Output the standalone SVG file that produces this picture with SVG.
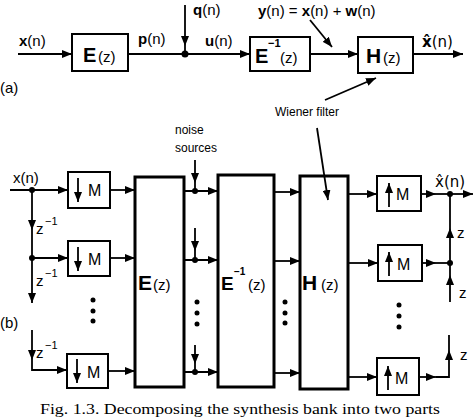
<svg xmlns="http://www.w3.org/2000/svg" width="474" height="419" viewBox="0 0 474 419">
<style>
text{font-family:"Liberation Sans",Arial,sans-serif;fill:#000}
.b{font-weight:bold}
.lbl{font-size:15px}
.sm{font-size:12px}
.box{fill:none;stroke:#000;stroke-width:2}
.tbox{fill:none;stroke:#000;stroke-width:3}
.ln{fill:none;stroke:#000;stroke-width:1.8}
.dot{fill:#000}
.cap{font-family:"Liberation Serif","Times New Roman",serif;font-size:15px}
</style>
<defs>
<marker id="ah" markerUnits="userSpaceOnUse" markerWidth="10" markerHeight="8" refX="10" refY="4" orient="auto">
<path d="M0,0 L10,4 L0,8 z" fill="#000"/>
</marker>
</defs>

<!-- (a) nodes -->
<g id="a-E">
<rect class="box" x="72" y="34" width="56" height="37"/>
<text x="83" y="62" class="b" font-size="20">E</text><text x="98" y="62" class="lbl">(z)</text>
</g>
<g id="a-Einv">
<rect class="box" x="250" y="37" width="60" height="34"/>
<text x="255" y="63" class="b" font-size="20">E</text><text x="268" y="47" class="b" font-size="11">−1</text><text x="280" y="63" class="lbl">(z)</text>
</g>
<g id="a-H">
<rect class="box" x="358" y="37" width="55" height="36"/>
<text x="366" y="63" class="b" font-size="21">H</text><text x="383" y="63" class="lbl">(z)</text>
</g>

<g id="a-labels">
<text x="19" y="46" class="lbl"><tspan class="b">x</tspan>(n)</text>
<text x="138" y="44" class="lbl"><tspan class="b">p</tspan>(n)</text>
<text x="193" y="15" class="lbl"><tspan class="b">q</tspan>(n)</text>
<text x="205" y="46" class="lbl"><tspan class="b">u</tspan>(n)</text>
<text x="258" y="16" class="lbl"><tspan class="b">y</tspan>(n) = <tspan class="b">x</tspan>(n) + <tspan class="b">w</tspan>(n)</text>
<text x="422" y="47" class="lbl" style="font-family:'DejaVu Sans',sans-serif" font-size="14"><tspan class="b">x̂</tspan>(n)</text>
<text x="0" y="93" class="lbl">(a)</text>
<text x="275" y="116" class="sm">Wiener filter</text>
</g>

<!-- (b) down-samplers -->
<g id="b-down1">
<rect class="box" x="68" y="172" width="42" height="36"/>
<path class="ln" d="M78,178 V202" marker-end="url(#ah)"/>
<text x="88" y="196" font-size="16">M</text>
</g>
<g id="b-down2">
<rect class="box" x="68" y="241" width="42" height="35"/>
<path class="ln" d="M78,247 V271" marker-end="url(#ah)"/>
<text x="88" y="265" font-size="16">M</text>
</g>
<g id="b-down3">
<rect class="box" x="67" y="354" width="41" height="34"/>
<path class="ln" d="M77,359 V383" marker-end="url(#ah)"/>
<text x="87" y="378" font-size="16">M</text>
</g>

<!-- (b) big blocks -->
<g id="b-E">
<rect class="tbox" x="135" y="177" width="49" height="210"/>
<text x="138" y="290" class="b" font-size="21">E</text><text x="153" y="290" class="lbl">(z)</text>
</g>
<g id="b-Einv">
<rect class="tbox" x="218" y="175" width="56" height="212"/>
<text x="221" y="290" class="b" font-size="19">E</text><text x="234" y="275" class="b" font-size="10">−1</text><text x="248" y="290" class="lbl">(z)</text>
</g>
<g id="b-H">
<rect class="tbox" x="300" y="176" width="48" height="213"/>
<text x="302" y="290" class="b" font-size="21">H</text><text x="321" y="290" class="lbl">(z)</text>
</g>

<!-- (b) up-samplers -->
<g id="b-up1">
<rect class="box" x="377" y="176" width="44" height="35"/>
<path class="ln" d="M389,207 V183" marker-end="url(#ah)"/>
<text x="396" y="200" font-size="16">M</text>
</g>
<g id="b-up2">
<rect class="box" x="378" y="245" width="44" height="36"/>
<path class="ln" d="M389,276 V252" marker-end="url(#ah)"/>
<text x="397" y="270" font-size="16">M</text>
</g>
<g id="b-up3">
<rect class="box" x="377" y="358" width="42" height="37"/>
<path class="ln" d="M388,390 V366" marker-end="url(#ah)"/>
<text x="395" y="384" font-size="16">M</text>
</g>

<g id="b-labels">
<text x="13" y="183" class="lbl">x(n)</text>
<text x="36" y="234" class="lbl">z</text><text x="45" y="225" font-size="11">−1</text>
<text x="36" y="286" class="lbl">z</text><text x="45" y="277" font-size="11">−1</text>
<text x="36" y="358" class="lbl">z</text><text x="45" y="349" font-size="11">−1</text>
<text x="0" y="328" class="lbl">(b)</text>
<text x="175" y="134" class="sm">noise</text>
<text x="175" y="152" class="sm">sources</text>
<text x="435" y="187" class="lbl" style="font-family:'DejaVu Sans',sans-serif" font-size="14">x̂(n)</text>
<text x="457" y="238" class="lbl">z</text>
<text x="459" y="298" class="lbl">z</text>
<text x="460" y="360" class="lbl">z</text>
<text x="40" y="414" class="cap" textLength="400" lengthAdjust="spacingAndGlyphs">Fig. 1.3. Decomposing the synthesis bank into two parts</text>
</g>

<!-- connectors -->
<g id="connectors" class="ln">
<!-- (a) -->
<path d="M18,54 H72" marker-end="url(#ah)"/>
<path d="M128,54 H185"/>
<path d="M185,5 V46" marker-end="url(#ah)"/>
<path d="M185,46 V54"/>
<path d="M185,54 H250" marker-end="url(#ah)"/>
<path d="M310,54 H358" marker-end="url(#ah)"/>
<path d="M413,54 H463" marker-end="url(#ah)"/>
<path d="M310,20 L332,47" marker-end="url(#ah)"/>
<path d="M325,100 L376,78" marker-end="url(#ah)"/>
<path d="M317,128 L328,200" marker-end="url(#ah)"/>
<!-- (b) left -->
<path d="M10,190 H68" marker-end="url(#ah)"/>
<path d="M32,190 V230" marker-end="url(#ah)"/>
<path d="M32,230 V258"/>
<path d="M32,258 H68" marker-end="url(#ah)"/>
<path d="M32,258 V303" marker-end="url(#ah)"/>
<path d="M32,330 V360" marker-end="url(#ah)"/>
<path d="M32,360 V370 H67" marker-end="url(#ah)"/>
<path d="M110,190 H135" marker-end="url(#ah)"/>
<path d="M110,258 H135" marker-end="url(#ah)"/>
<path d="M108,371 H135" marker-end="url(#ah)"/>
<!-- noise -->
<path d="M184,191 H218" marker-end="url(#ah)"/>
<path d="M195,160 V183" marker-end="url(#ah)"/>
<path d="M195,183 V191"/>
<path d="M184,260 H218" marker-end="url(#ah)"/>
<path d="M195,228 V251" marker-end="url(#ah)"/>
<path d="M195,251 V260"/>
<path d="M184,372 H218" marker-end="url(#ah)"/>
<path d="M195,345 V364" marker-end="url(#ah)"/>
<path d="M195,364 V372"/>
<!-- E^-1 to H -->
<path d="M274,192 H300" marker-end="url(#ah)"/>
<path d="M274,261 H300" marker-end="url(#ah)"/>
<path d="M274,373 H300" marker-end="url(#ah)"/>
<!-- H to up-M -->
<path d="M348,194 H377" marker-end="url(#ah)"/>
<path d="M348,263 H378" marker-end="url(#ah)"/>
<path d="M348,377 H377" marker-end="url(#ah)"/>
<!-- right side -->
<path d="M421,194 H436" marker-end="url(#ah)"/>
<path d="M436,194 H450"/>
<path d="M450,194 H473" marker-end="url(#ah)"/>
<path d="M422,263 H436" marker-end="url(#ah)"/>
<path d="M436,263 H450"/>
<path d="M450,263 V228" marker-end="url(#ah)"/>
<path d="M450,228 V194"/>
<path d="M450,302 V275" marker-end="url(#ah)"/>
<path d="M450,275 V263"/>
<path d="M419,377 H436" marker-end="url(#ah)"/>
<path d="M436,377 H449 V350" marker-end="url(#ah)"/>
<path d="M449,350 V335"/>
</g>

<!-- junction dots -->
<g id="junctions" class="dot">
<circle cx="185" cy="54" r="3.5"/>
<circle cx="32" cy="190" r="3"/>
<circle cx="32" cy="258" r="3"/>
<circle cx="195" cy="191" r="3"/>
<circle cx="195" cy="260" r="3"/>
<circle cx="195" cy="372" r="3"/>
<circle cx="450" cy="194" r="3"/>
<circle cx="450" cy="263" r="3"/>
</g>

<!-- ellipses -->
<g id="ellipses" class="dot">
<circle cx="93" cy="300" r="2.5"/><circle cx="93" cy="311" r="2.5"/><circle cx="93" cy="321" r="2.5"/>
<circle cx="197" cy="302" r="2.5"/><circle cx="197" cy="313" r="2.5"/><circle cx="197" cy="324" r="2.5"/>
<circle cx="285" cy="302" r="2.5"/><circle cx="285" cy="313" r="2.5"/><circle cx="285" cy="323" r="2.5"/>
<circle cx="399" cy="305" r="2.5"/><circle cx="399" cy="316" r="2.5"/><circle cx="399" cy="327" r="2.5"/>
</g>
</svg>
